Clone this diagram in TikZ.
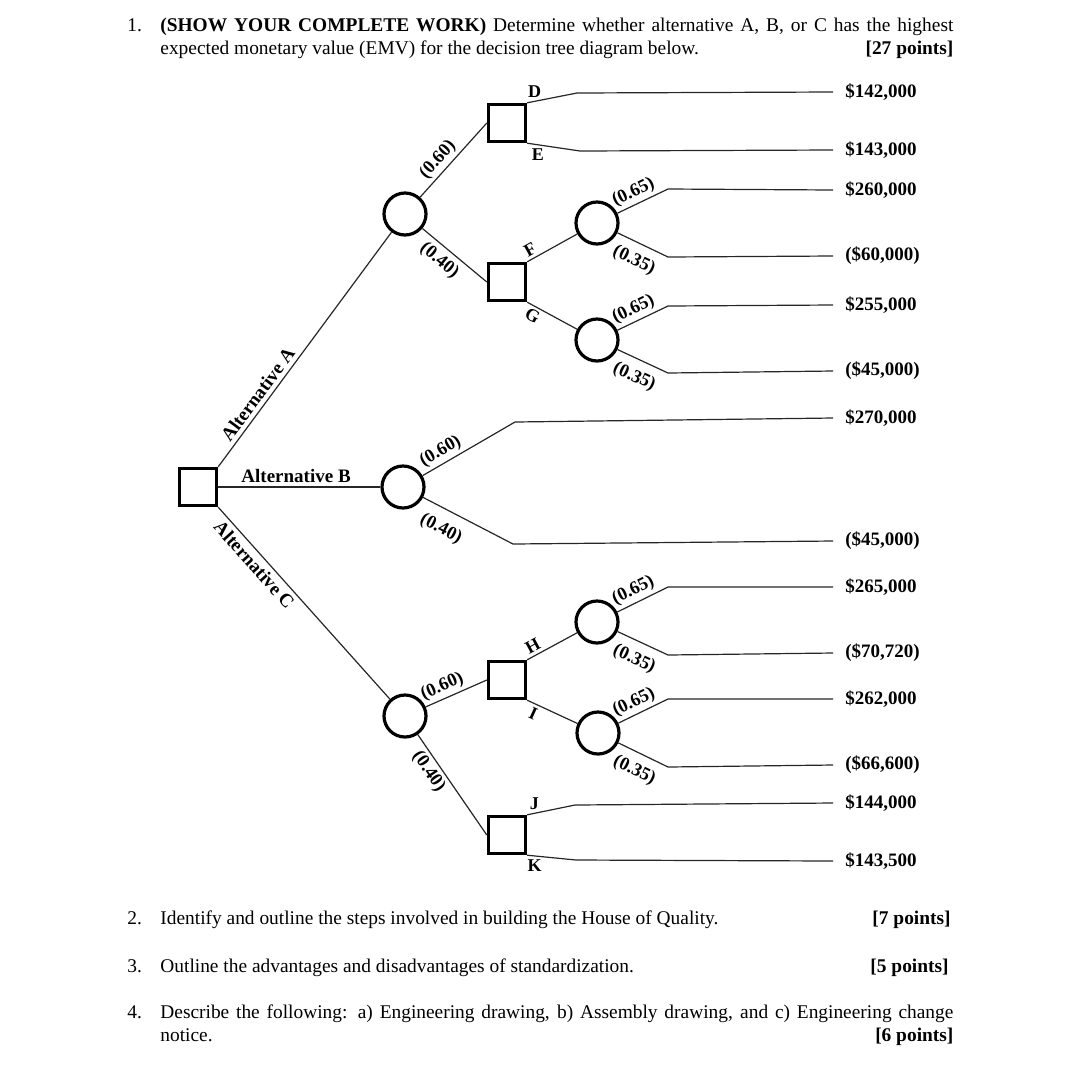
\documentclass[tikz,border=0pt]{standalone}
\usepackage{fontspec}
\setmainfont{Liberation Serif}
\usetikzlibrary{positioning}
\tikzset{decision/.style = {draw, rectangle, line width=1.7pt, minimum size=18.5pt, inner sep=0pt},
         chance/.style = {draw, circle, line width=1.6pt, minimum size=21pt, inner sep=0pt},
         branch/.style = {draw=black!85, line width=0.6pt},
         prob/.style = {font=\fontsize{9.2}{11}\selectfont\bfseries, sloped, inner sep=1.5pt},
         letter/.style = {font=\fontsize{9}{11}\selectfont\bfseries, inner sep=1.5pt},
         altlabel/.style = {font=\fontsize{9.5}{11}\selectfont\bfseries, inner sep=2pt},
         payoff/.style = {font=\fontsize{9.5}{11}\selectfont\bfseries, anchor=west, inner sep=6pt},
         question/.style = {font=\fontsize{9.7}{11.5}\selectfont, anchor=base west, inner sep=0pt}}

\begin{document}
\begin{tikzpicture}[x=0.5pt, y=-0.5pt]
    \useasboundingbox (0,0) rectangle (1080,1072);
    % questions
    \node [question] (n1) at (127,31) {1.};
    \node [question, text width=396.5pt, align=justify] (q1) at (160,31)
      {\textbf{(SHOW YOUR COMPLETE WORK)} Determine whether alternative A, B, or C has the highest\linebreak
       expected monetary value (EMV) for the decision tree diagram below.\hfill\textbf{[27 points]}};
    \node [question] (n2) at (127,924) {2.};
    \node [question] (q2) at (160,924) {Identify and outline the steps involved in building the House of Quality.};
    \node [question, anchor=base east] (s2) at (951,924) {\textbf{[7 points]}};
    \node [question] (n3) at (127,972) {3.};
    \node [question] (q3) at (160,972) {Outline the advantages and disadvantages of standardization.};
    \node [question, anchor=base east] (s3) at (949,972) {\textbf{[5 points]}};
    \node [question] (n4) at (127,1018) {4.};
    \node [question, text width=396.5pt, align=justify] (q4) at (160,1018)
      {Describe the following: a) Engineering drawing, b) Assembly drawing, and c) Engineering change\linebreak
       notice.\hfill\textbf{[6 points]}};

    % tree nodes
    \node [decision] (root) at (198,487) {};
    \node [chance] (A) at (405,214) {};
    \node [chance] (B) at (403,487) {};
    \node [chance] (C) at (405,716) {};
    \node [decision] (DE) at (507,123) {};
    \node [decision] (FG) at (507,282) {};
    \node [chance] (F) at (597,223) {};
    \node [chance] (G) at (597,340) {};
    \node [decision] (HI) at (507,680) {};
    \node [decision] (JK) at (507,835) {};
    \node [chance] (H) at (597,622) {};
    \node [chance] (I) at (598,733) {};

    % payoffs
    \foreach \nm/\bx/\by/\y/\val in {pD/577/93/92/{\$142,000}, pE/580/151/150/{\$143,000},
        pF1/668/189/190/{\$260,000}, pF2/668/257/256/{(\$60,000)},
        pG1/668/306/305/{\$255,000}, pG2/668/373/371/{(\$45,000)},
        pB1/515/422/418/{\$270,000}, pB2/513/544/541/{(\$45,000)},
        pH1/668/587/587/{\$265,000}, pH2/668/655/653/{(\$70,720)},
        pI1/668/699/699/{\$262,000}, pI2/668/767/765/{(\$66,600)},
        pJ/575/805/803/{\$144,000}, pK/576/860/861/{\$143,500}} {
      \coordinate (b\nm) at (\bx,\by);
      \node [payoff] (\nm) at (833,\y) {\val};
    }

    % alternatives
    \draw [branch] (root.north east) -- node [altlabel, sloped, above, pos=0.28] {Alternative A} (A);
    \draw [branch] (root.east) -- node [altlabel, above, pos=0.48] {Alternative B} (B);
    \draw [branch] (root.south east) -- node [altlabel, sloped, below, pos=0.26] {Alternative C} (C);

    % alternative A
    \draw [branch] (A) -- node [prob, above, pos=0.4] {(0.60)} (DE.west);
    \draw [branch] (A) -- node [prob, below=1pt, pos=0.4] {(0.40)} (FG.west);
    \draw [branch] (DE.north east) -- node [letter, above, pos=0.15] {D} (bpD) -- (pD.west);
    \draw [branch] (DE.south east) -- node [letter, below, pos=0.2] {E} (bpE) -- (pE.west);
    \draw [branch] (FG.north east) -- node [letter, sloped, above, pos=0.15] {F} (F);
    \draw [branch] (FG.south east) -- node [letter, sloped, below, pos=0.2] {G} (G);
    \draw [branch] (F) -- node [prob, above, pos=0.42] {(0.65)} (bpF1) -- (pF1.west);
    \draw [branch] (F) -- node [prob, below=3pt, pos=0.48] {(0.35)} (bpF2) -- (pF2.west);
    \draw [branch] (G) -- node [prob, above, pos=0.42] {(0.65)} (bpG1) -- (pG1.west);
    \draw [branch] (G) -- node [prob, below=3pt, pos=0.48] {(0.35)} (bpG2) -- (pG2.west);

    % alternative B
    \draw [branch] (B) -- node [prob, above, pos=0.26] {(0.60)} (bpB1) -- (pB1.west);
    \draw [branch] (B) -- node [prob, below=4pt, pos=0.3] {(0.40)} (bpB2) -- (pB2.west);

    % alternative C
    \draw [branch] (C) -- node [prob, above, pos=0.35] {(0.60)} (HI.west);
    \draw [branch] (C) -- node [prob, below, pos=0.3] {(0.40)} (JK.west);
    \draw [branch] (HI.north east) -- node [letter, sloped, above, pos=0.2] {H} (H);
    \draw [branch] (HI.south east) -- node [letter, sloped, below, pos=0.2] {I} (I);
    \draw [branch] (H) -- node [prob, above, pos=0.42] {(0.65)} (bpH1) -- (pH1.west);
    \draw [branch] (H) -- node [prob, below=3pt, pos=0.48] {(0.35)} (bpH2) -- (pH2.west);
    \draw [branch] (I) -- node [prob, above, pos=0.42] {(0.65)} (bpI1) -- (pI1.west);
    \draw [branch] (I) -- node [prob, below=3pt, pos=0.48] {(0.35)} (bpI2) -- (pI2.west);
    \draw [branch] (JK.north east) -- node [letter, above, pos=0.15] {J} (bpJ) -- (pJ.west);
    \draw [branch] (JK.south east) -- node [letter, below, pos=0.15] {K} (bpK) -- (pK.west);
\end{tikzpicture}
\end{document}
